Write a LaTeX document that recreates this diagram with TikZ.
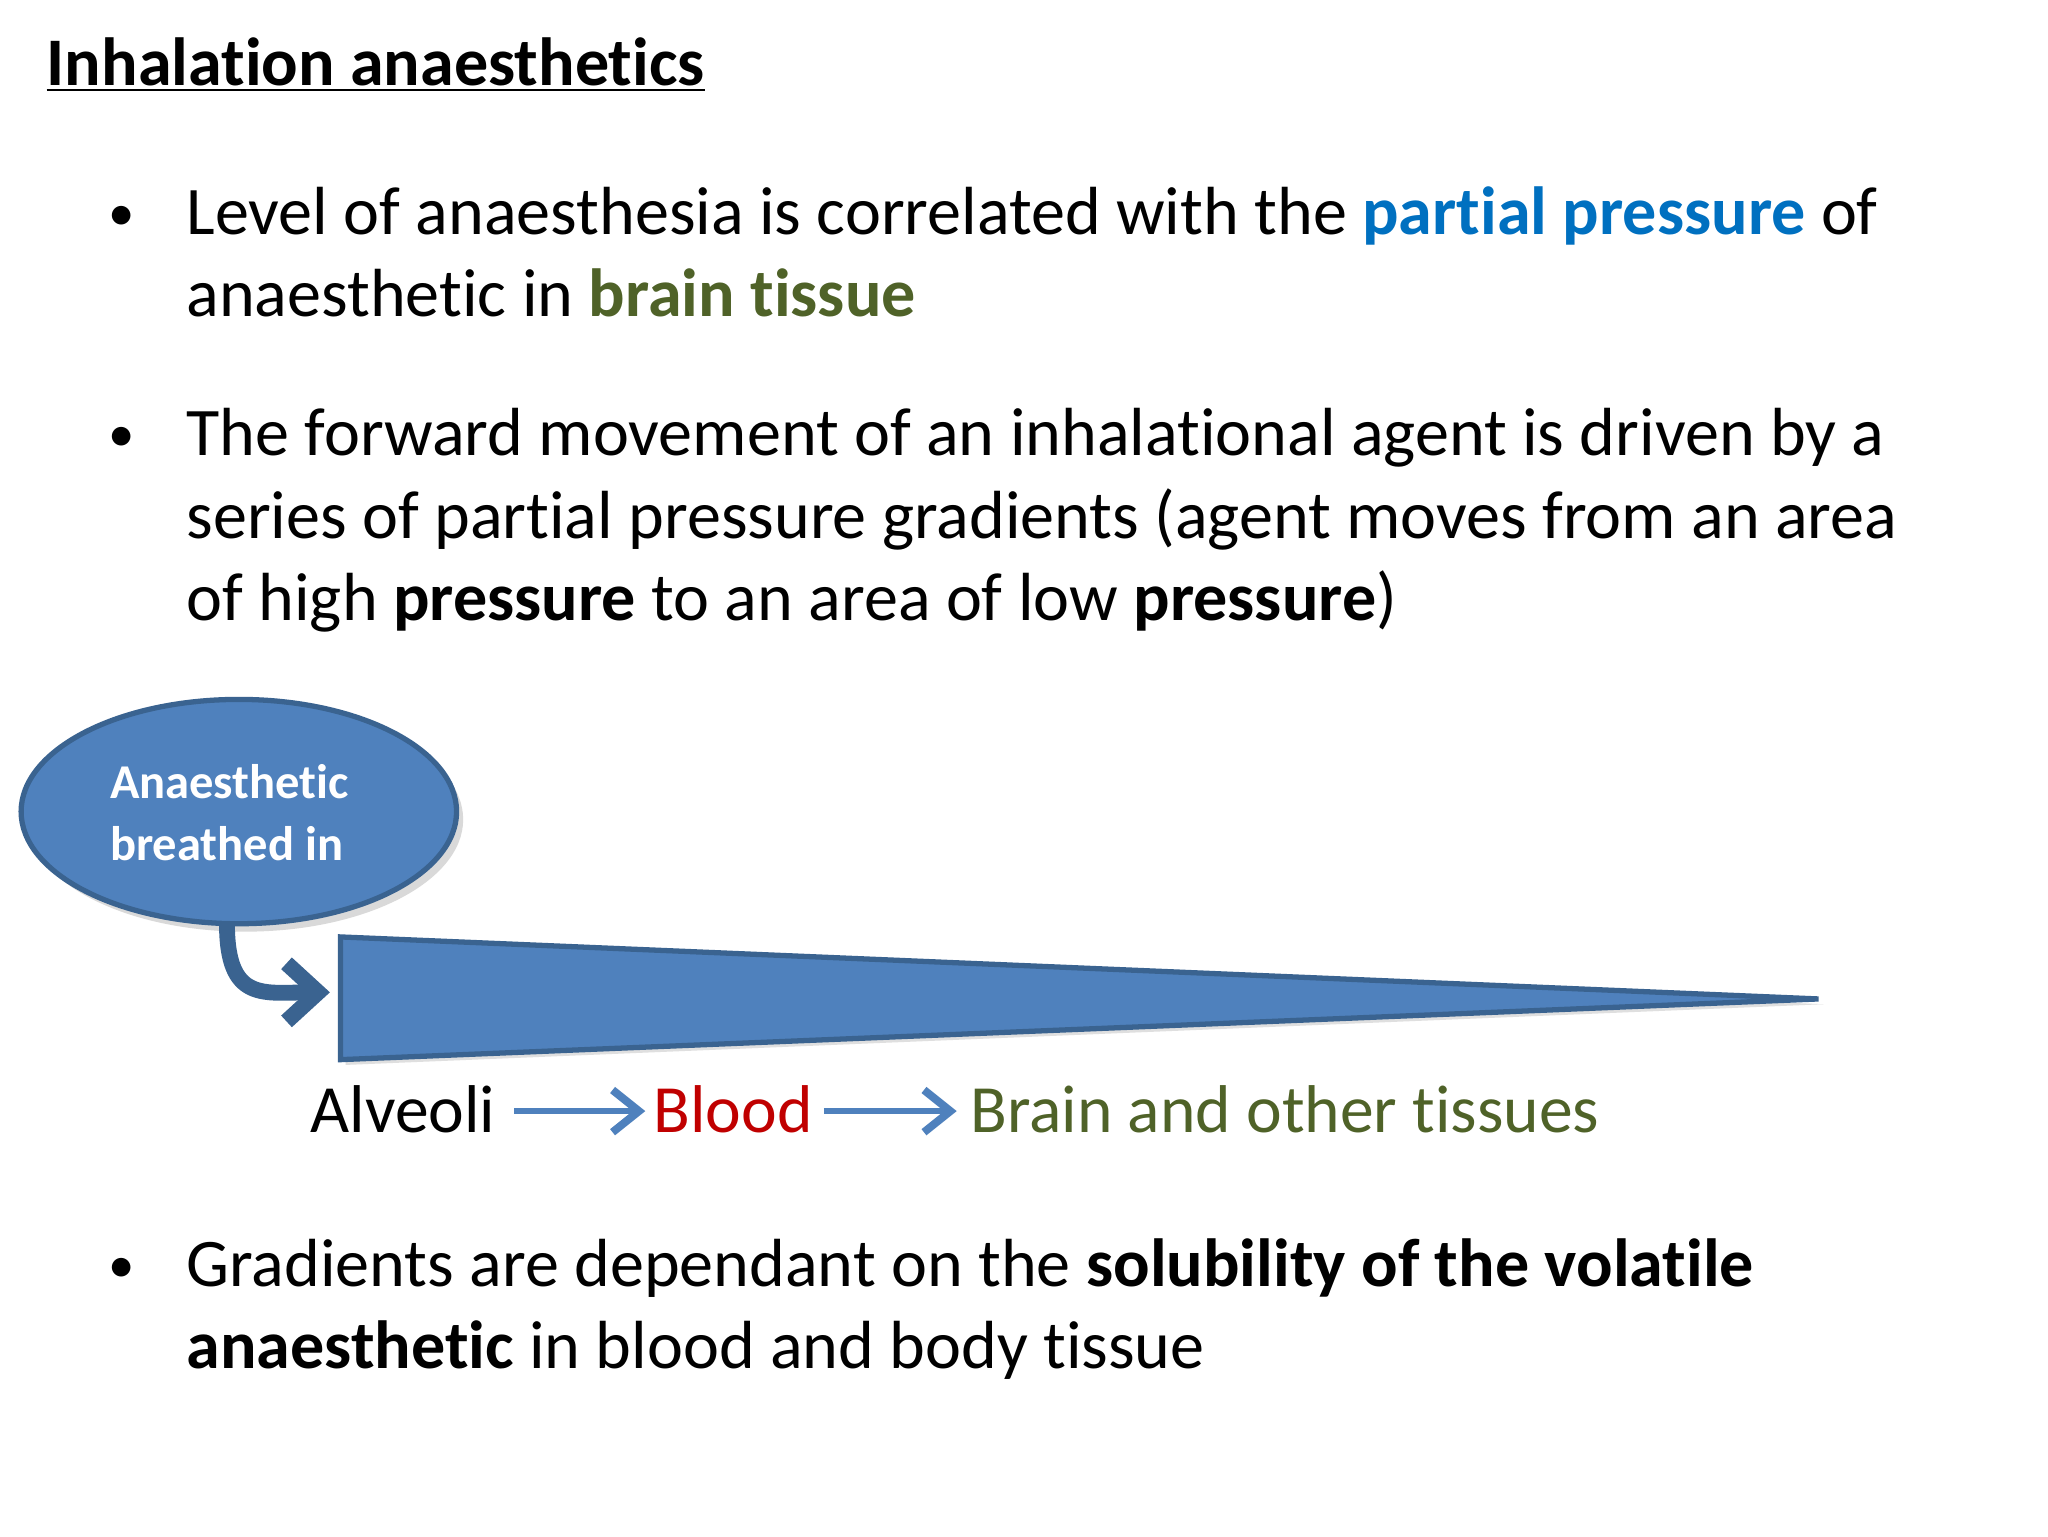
\documentclass[tikz,border=0pt]{standalone}
\usepackage{fontspec}
\setmainfont[Ligatures={NoCommon}]{Carlito}
\usetikzlibrary{arrows.meta}
\definecolor{bl}{HTML}{4F81BD}
\definecolor{bld}{HTML}{3A6390}
\definecolor{pp}{HTML}{0070C0}
\definecolor{gr}{HTML}{4F6228}
\definecolor{rd}{HTML}{C00000}
\tikzset{body/.style={anchor=base west,inner sep=0pt,font=\fontsize{25.8pt}{31.5pt}\selectfont},
 bul/.style={anchor=base west,inner sep=0pt,font=\fontsize{20pt}{30pt}\selectfont},
 flow/.style={-{Straight Barb[length=10pt,width=16pt,line width=3pt]},line width=2.5pt,bl}}
\begin{document}
\begin{tikzpicture}[x=0.5pt,y=-0.5pt]
\useasboundingbox[fill=white] (0,0) rectangle (1552,1164);
\node[anchor=base west,inner sep=0pt,font=\fontsize{25.8pt}{28pt}\selectfont\bfseries] (title) at (35,65) {\underline{Inhalation anaesthetics}};
\node[bul] (b1) at (82,175) {•};
\node[body] (t1a) at (141,178) {Level of anaesthesia is correlated with the \textbf{\color{pp}partial pressure} of};
\node[body] (t1b) at (141,240) {anaesthetic in \textbf{\color{gr}brain tissue}};
\node[bul] (b2) at (82,342) {•};
\node[body] (t2a) at (141,345) {The forward movement of an inhalational agent is driven by a};
\node[body] (t2b) at (141,408) {series of partial pressure gradients (agent moves from an area};
\node[body] (t2c) at (141,470) {of high \textbf{pressure} to an area of low \textbf{pressure})};
\node[bul] (b3) at (82,972) {•};
\node[body] (t3a) at (141,975) {Gradients are dependant on the \textbf{solubility of the volatile}};
\node[body] (t3b) at (141,1037) {\textbf{anaesthetic} in blood and body tissue};
% ellipse
\fill[gray!30] (186,621) ellipse [x radius=165, y radius=85];
\draw[bld,fill=bl,line width=2pt] (181,615) ellipse [x radius=165, y radius=85];
\node[anchor=base west,inner sep=0pt,text=white,font=\fontsize{18.4pt}{20pt}\selectfont\bfseries] (e1) at (83,605) {Anaesthetic};
\node[anchor=base west,inner sep=0pt,text=white,font=\fontsize{18.4pt}{20pt}\selectfont\bfseries] (e2) at (83,652) {breathed in};
\coordinate (es) at (172,700);
\coordinate (ee) at (250,752);
% triangle
\fill[gray!25] (262,714) -- (1382,761) -- (262,807) -- cycle;
\draw[bld,fill=bl,line width=2pt] (258,710) -- (1378,757) -- (258,803) -- cycle;
\draw[bld,line width=6pt,-{Straight Barb[length=12pt,width=22pt,line width=6pt]}] (es) .. controls (172,760) and (200,752) .. (ee);
\node[anchor=base west,inner sep=0pt,font=\fontsize{25.6pt}{30pt}\selectfont] (alv) at (235,858) {Alveoli};
\node[anchor=base west,inner sep=0pt,font=\fontsize{25.6pt}{30pt}\selectfont,text=rd] (blood) at (495,858) {Blood};
\node[anchor=base west,inner sep=0pt,font=\fontsize{25.6pt}{30pt}\selectfont,text=gr] (brain) at (735,858) {Brain and other tissues};
\draw[flow] ([xshift=7pt,yshift=8pt]alv.base east) -- ([xshift=-3pt,yshift=8pt]blood.base west);
\draw[flow] ([xshift=4pt,yshift=8pt]blood.base east) -- ([xshift=-5pt,yshift=8pt]brain.base west);
\end{tikzpicture}
\end{document}
